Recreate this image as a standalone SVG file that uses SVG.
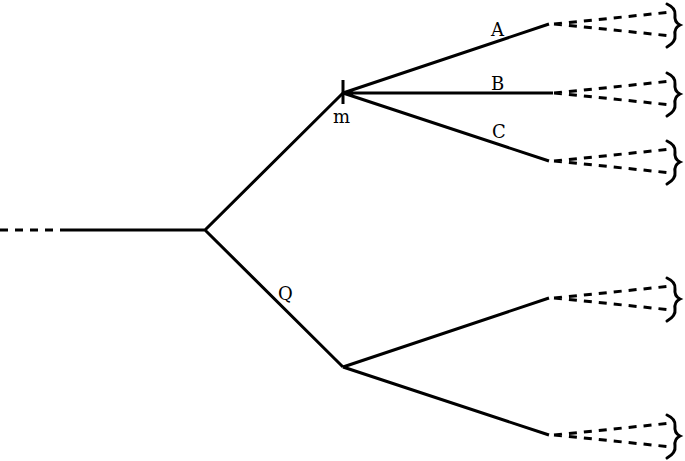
<svg xmlns="http://www.w3.org/2000/svg" width="685" height="461" viewBox="0 0 685 461">
<defs>
<style>
.s{stroke:#000;stroke-width:3;fill:none;stroke-linecap:butt}
.d{stroke:#000;stroke-width:3;fill:none;stroke-dasharray:8,7}
.b{stroke:#000;stroke-width:3;fill:none;stroke-linecap:round}
text{font-family:"DejaVu Serif",serif;font-size:18px;fill:#000}
</style>
<g id="end">
<path class="d" d="M0,0 L118,-12 M0,0 L118,12"/>
<path class="b" d="M113,-20 Q122,-16 121,-9 Q120,-2 126,1 Q120,4 121,11 Q122,18 113,23"/>
</g>
</defs>
<g id="connectors">
<path class="d" d="M0,230 L68,230"/>
<path class="s" d="M68,230 L205,230 L343,93 M205,230 L343,367"/>
<path class="s" d="M343,80 L343,104"/>
<path class="s" d="M343,93 L549,24 M343,93 L553,93 M343,93 L549,161"/>
<path class="s" d="M343,367 L549,298 M343,367 L549,435"/>
</g>
<g id="ends">
<use href="#end" x="554" y="24"/>
<use href="#end" x="554" y="93"/>
<use href="#end" x="554" y="161"/>
<use href="#end" x="554" y="298"/>
<use href="#end" x="554" y="435"/>
</g>
<g id="labels">
<text x="491" y="36">A</text>
<text x="491" y="90">B</text>
<text x="492" y="138">C</text>
<text x="333" y="123">m</text>
<text x="278" y="300">Q</text>
</g>
</svg>
